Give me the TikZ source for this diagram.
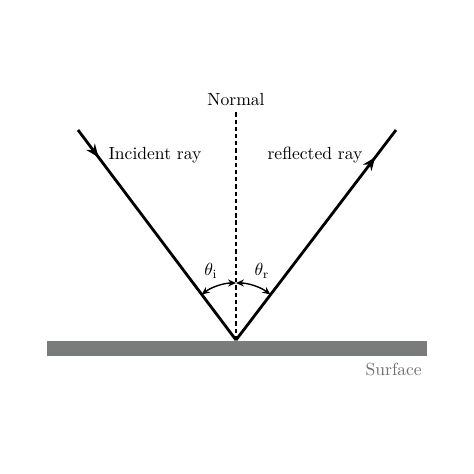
\documentclass[tikz,border=0pt]{standalone}
\usetikzlibrary{decorations.markings,arrows.meta}
\definecolor{surfgray}{RGB}{122,124,124}
\begin{document}
\begin{tikzpicture}[x=0.2mm,y=0.2mm,>={Stealth[length=7.5pt,width=6pt]},line join=round,font=\normalsize]
			\def\rad{11.4mm}
			\tikzset{
				ray/.style={line width=1.6pt},
				arrowin/.style={postaction={decorate},decoration={markings,mark=at position #1 with {\arrow{>}}}},
				anglearc/.style={line width=0.8pt,{Stealth[length=4.5pt,width=4pt]}-{Stealth[length=4.5pt,width=4pt]}}
			}
			\useasboundingbox (0,0) rectangle (474,474);
			% surface
			\fill [surfgray] (47,118) rectangle (427,133);
			\node [surfgray!90!black, anchor=east] (surf) at (428,105) {Surface};
			% points
			\coordinate (O) at (236,134);
			\coordinate (A) at (78,344);
			\coordinate (B) at (396,344);
			\coordinate (N) at (236,362);
			% normal
			\draw [line width=1.1pt, dash pattern=on 2.4pt off 1.7pt] (O)--(N);
			\node (normal) at (236,374) {Normal};
			% rays
			\draw [ray, arrowin=0.13] (A)--(O);
			\draw [ray, arrowin=0.87] (O)--(B);
			\node (inc) at (155,319) {Incident ray};
			\node (refl) at (315,319) {reflected ray};
			% angles
			\draw [anglearc] ([shift={(127:\rad)}]O) arc [start angle=127, end angle=90, radius=\rad];
			\draw [anglearc] ([shift={(53:\rad)}]O) arc [start angle=53, end angle=90, radius=\rad];
			\node (ti) at (211,203) {$\theta_{\mathrm{i}}$};
			\node (tr) at (262,203) {$\theta_{\mathrm{r}}$};
		\end{tikzpicture}
\end{document}
